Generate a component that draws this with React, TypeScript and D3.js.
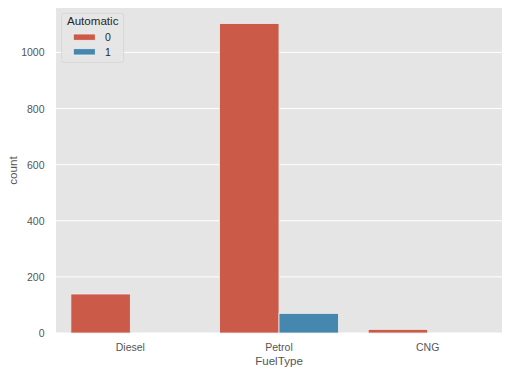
import React from "react";
import * as d3 from "d3";

const categories = ["Diesel", "Petrol", "CNG"];
const hues = ["0", "1"];
const manualCounts = [139, 1103, 13]; // Automatic = 0
const autoCounts = [0, 70, 0]; // Automatic = 1
const yTicks = [0, 200, 400, 600, 800, 1000];
const colors = ["#CC5A49", "#4587AE"];

const W = 508;
const H = 374;
const left = 56;
const right = 502;
const top = 8;
const bottom = 333;
const FONT = "'Liberation Sans', Arial, Helvetica, sans-serif";

export default function App() {
  const series = [manualCounts, autoCounts];
  const maxV = d3.max(series.flat()) as number;
  const y = d3.scaleLinear().domain([0, maxV * 1.05]).range([bottom, top]);
  const x = d3
    .scaleBand<string>()
    .domain(categories)
    .range([left, right])
    .paddingInner(0.2)
    .paddingOuter(0.1);
  const xs = d3.scaleBand<string>().domain(hues).range([0, x.bandwidth()]);

  return (
    <svg
      width={W}
      height={H}
      style={{ position: "absolute", left: 0, top: 0 }}
      fontFamily={FONT}
    >
      <rect x={0} y={0} width={W} height={H} fill="#ffffff" />
      <rect x={left} y={top} width={right - left} height={bottom - top} fill="#E5E5E5" />
      {yTicks.map((t) => (
        <g key={t}>
          <line x1={left} x2={right} y1={y(t)} y2={y(t)} stroke="#ffffff" strokeWidth={1} />
          <text
            x={44.5}
            y={y(t)}
            textAnchor="end"
            dominantBaseline="central"
            fontSize={10.5}
            fill="#555555"
          >
            {t}
          </text>
        </g>
      ))}
      {series.map((vals, si) =>
        categories.map((c, ci) =>
          vals[ci] > 0 ? (
            <rect
              key={`${si}-${c}`}
              x={(x(c) as number) + (xs(hues[si]) as number)}
              y={y(vals[ci])}
              width={xs.bandwidth()}
              height={y(0) - y(vals[ci])}
              fill={colors[si]}
              stroke="#EEEEEE"
              strokeWidth={0.8}
            />
          ) : null
        )
      )}
      {categories.map((c) => (
        <text
          key={c}
          x={(x(c) as number) + x.bandwidth() / 2}
          y={351.3}
          textAnchor="middle"
          fontSize={10.5}
          fill="#555555"
        >
          {c}
        </text>
      ))}
      <text x={(left + right) / 2} y={365} textAnchor="middle" fontSize={11.6} fill="#555555">
        FuelType
      </text>
      <text
        transform={`translate(17,${(top + bottom) / 2}) rotate(-90)`}
        textAnchor="middle"
        fontSize={11.6}
        fill="#555555"
      >
        count
      </text>
      <g>
        <rect
          x={61.7}
          y={13.3}
          width={62}
          height={49}
          rx={2.5}
          fill="#E5E5E5"
          fillOpacity={0.9}
          stroke="#D3D3D3"
          strokeWidth={0.8}
        />
        <text x={92.7} y={24.7} textAnchor="middle" fontSize={11.6} fill="#262626">
          Automatic
        </text>
        {hues.map((h, i) => (
          <g key={h}>
            <rect
              x={73.3}
              y={34 + i * 14.7}
              width={22}
              height={6.3}
              fill={colors[i]}
              stroke="#EEEEEE"
              strokeWidth={0.8}
            />
            <text
              x={105}
              y={37.3 + i * 14.7}
              dominantBaseline="central"
              fontSize={10.5}
              fill="#262626"
            >
              {h}
            </text>
          </g>
        ))}
      </g>
    </svg>
  );
}
